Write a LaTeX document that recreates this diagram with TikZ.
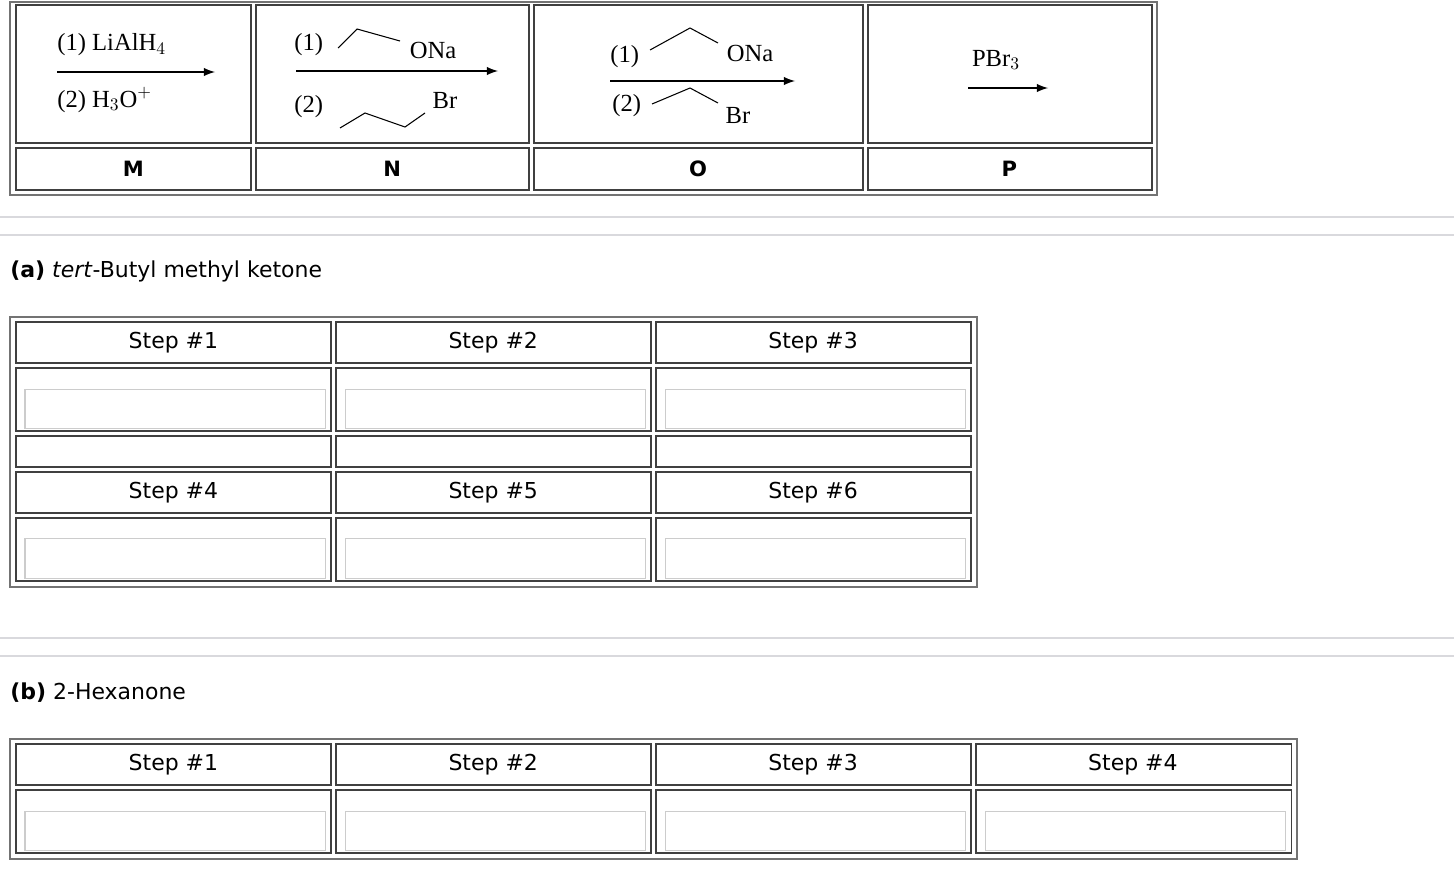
\documentclass[tikz,border=0pt]{standalone}
\usepackage{fontspec}
\setmainfont{Liberation Serif}
\setsansfont{DejaVu Sans}
\usetikzlibrary{arrows}
\tikzset{
  cellbox/.style={draw=black!75, line width=0.9pt},
  outerbox/.style={draw=black!55, line width=0.9pt},
  inputbox/.style={draw=black!20, line width=0.6pt},
  sepline/.style={draw=blue!10!black!15, line width=0.7pt},
  steplabel/.style={font=\sffamily\fontsize{12.5}{14}\selectfont},
  chem/.style={font=\fontsize{14}{16}\selectfont, inner sep=0pt},
  letter/.style={font=\sffamily\bfseries\fontsize{12}{14}\selectfont},
  rxn/.style={line width=1.2pt, -latex},
  bond/.style={line width=0.6pt}
}
\newcommand{\cellat}[4]{\draw[cellbox] ({(#1)*0.02},{-(#2)*0.02}) rectangle ({(#3)*0.02},{-(#4)*0.02});}
\newcommand{\inputat}[4]{\draw[inputbox] ({(#1)*0.02},{-(#2)*0.02}) rectangle ({(#3)*0.02},{-(#4)*0.02});}
\begin{document}
\begin{tikzpicture}
  \useasboundingbox (0,0) rectangle (29.08,-17.72);
  % reagent table
  \draw[outerbox] (0.2,-0.04) rectangle (23.14,-3.9);
  \foreach \xa/\xb/\lab in {16/251/M, 256/529/N, 534/863/O, 868/1152/P} {
    \cellat{\xa}{5}{\xb}{143}
    \cellat{\xa}{148}{\xb}{190}
    \node[letter] (let\lab) at ({(\xa+\xb)*0.01},-3.38) {\lab};
  }
  % M
  \node[chem, anchor=west] (m1) at (1.14,-0.9) {(1) LiAlH$_4$};
  \node[chem, anchor=west] (m2) at (1.14,-2.0) {(2) H$_3$O$^+$};
  \coordinate (ma) at (1.14,-1.44); \coordinate (mb) at (4.3,-1.44);
  \draw[rxn] (ma) -- (mb);
  % N
  \node[chem, anchor=west] (n1) at (5.88,-0.9) {(1)};
  \draw[bond] (6.76,-0.96) -- (7.14,-0.58) -- (8.0,-0.82);
  \node[chem] (n1b) at (8.66,-1.0) {ONa};
  \coordinate (na) at (5.92,-1.42); \coordinate (nb) at (9.96,-1.42);
  \draw[rxn] (na) -- (nb);
  \node[chem, anchor=west] (n2) at (5.88,-2.14) {(2)};
  \draw[bond] (6.8,-2.56) -- (7.3,-2.26) -- (8.1,-2.54) -- (8.5,-2.26);
  \node[chem] (n2b) at (8.9,-2.0) {Br};
  % O
  \node[chem, anchor=west] (o1) at (12.2,-1.14) {(1)};
  \draw[bond] (13.0,-1.0) -- (13.8,-0.56) -- (14.36,-0.86);
  \node[chem] (o1b) at (15.0,-1.06) {ONa};
  \coordinate (oa) at (12.2,-1.62); \coordinate (ob) at (15.9,-1.62);
  \draw[rxn] (oa) -- (ob);
  \node[chem, anchor=west] (o2) at (12.24,-2.12) {(2)};
  \draw[bond] (13.04,-2.08) -- (13.8,-1.76) -- (14.36,-2.06);
  \node[chem] (o2b) at (14.76,-2.3) {Br};
  % P
  \node[chem] (p1) at (19.92,-1.2) {PBr$_3$};
  \coordinate (pa) at (19.36,-1.76); \coordinate (pb) at (20.96,-1.76);
  \draw[rxn] (pa) -- (pb);
  % separators
  \draw[sepline] (0,-4.34) -- (29.08,-4.34);
  \draw[sepline] (0,-4.7) -- (29.08,-4.7);
  \draw[sepline] (0,-12.76) -- (29.08,-12.76);
  \draw[sepline] (0,-13.12) -- (29.08,-13.12);
  % part (a)
  \node[steplabel, anchor=west, inner sep=0pt] (parta) at (0.2,-5.42)
    {\textbf{(a)} \textit{tert}-Butyl methyl ketone};
  \draw[outerbox] (0.2,-6.34) rectangle (19.54,-11.74);
  \foreach \xa/\xb/\n in {16/331/1, 336/651/2, 656/971/3} {
    \cellat{\xa}{322}{\xb}{363}
    \cellat{\xa}{368}{\xb}{431}
    \cellat{\xa}{436}{\xb}{467}
    \cellat{\xa}{472}{\xb}{513}
    \cellat{\xa}{518}{\xb}{581}
    \inputat{\xa+9}{389}{\xb-6}{428}
    \inputat{\xa+9}{538}{\xb-6}{578}
    \node[steplabel] (sa\n) at ({(\xa+\xb)*0.01},-6.86) {Step \#\n};
    \pgfmathtruncatemacro{\m}{\n+3}
    \node[steplabel] (sb\n) at ({(\xa+\xb)*0.01},-9.86) {Step \#\m};
  }
  % part (b)
  \node[steplabel, anchor=west, inner sep=0pt] (partb) at (0.2,-13.86) {\textbf{(b)} 2-Hexanone};
  \draw[outerbox] (0.2,-14.78) rectangle (25.94,-17.18);
  \foreach \xa/\xb/\n in {16/331/1, 336/651/2, 656/971/3, 976/1291/4} {
    \cellat{\xa}{744}{\xb}{785}
    \cellat{\xa}{790}{\xb}{853}
    \inputat{\xa+9}{811}{\xb-6}{850}
    \node[steplabel] (sc\n) at ({(\xa+\xb)*0.01},-15.3) {Step \#\n};
  }
\end{tikzpicture}
\end{document}
